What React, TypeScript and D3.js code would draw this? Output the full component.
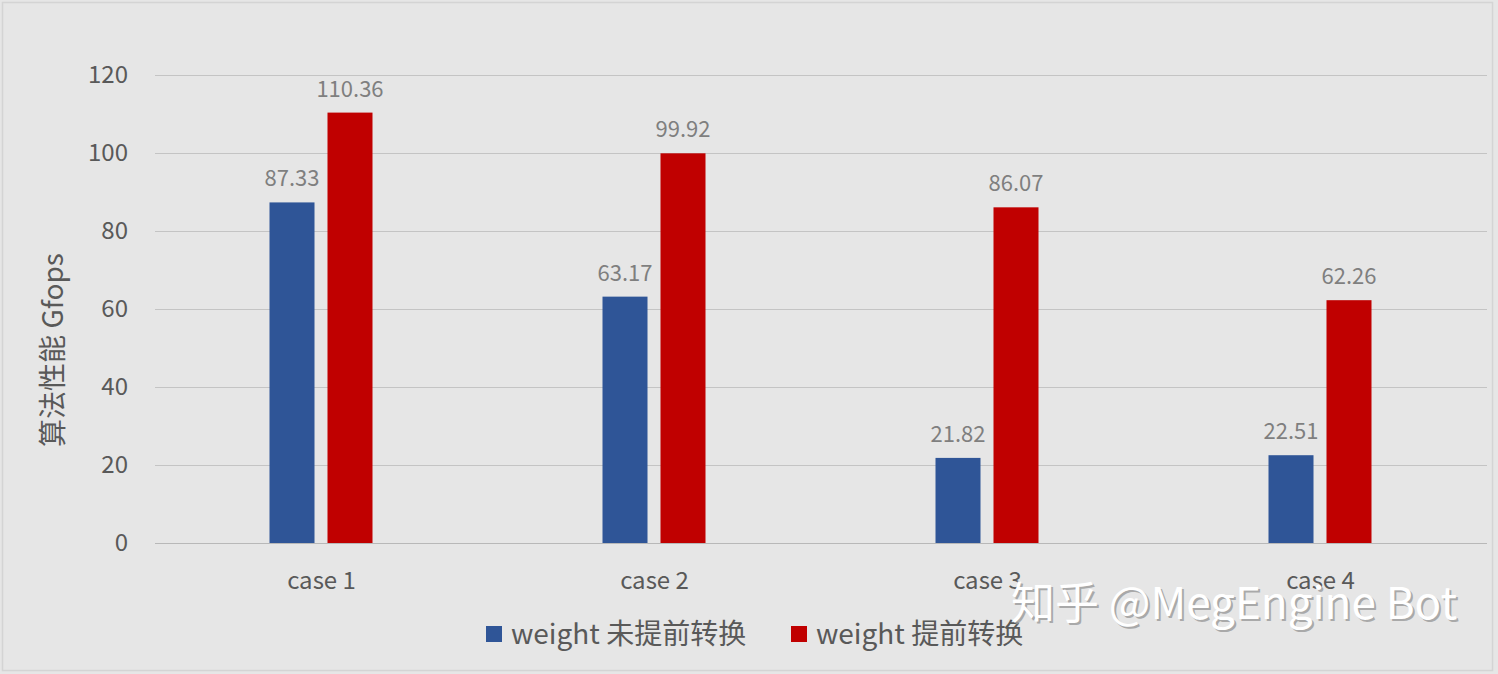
import React, { useEffect, useRef } from 'react';
import * as d3 from 'd3';

const cases = ['case 1', 'case 2', 'case 3', 'case 4'];
const seriesNames = ['weight 未提前转换', 'weight 提前转换'];
const seriesColors = ['#2f5597', '#c00000'];
const notConverted = [87.33, 63.17, 21.82, 22.51];
const converted = [110.36, 99.92, 86.07, 62.26];
const yTicks = [0, 20, 40, 60, 80, 100, 120];

const FONT = '"Noto Sans CJK SC", "Open Sans", sans-serif';

const App: React.FC = () => {
  const svgRef = useRef<SVGSVGElement>(null);

  useEffect(() => {
    document.body.style.margin = '0';
    if (!svgRef.current) return;
    const width = 1498;
    const height = 674;
    const svg = d3.select(svgRef.current);
    svg.selectAll('*').remove();

    // background + frame
    svg.append('rect')
      .attr('x', 0).attr('y', 0)
      .attr('width', width).attr('height', height)
      .attr('fill', '#e6e6e6');
    svg.append('rect')
      .attr('x', 2.5).attr('y', 2.5)
      .attr('width', 1490).attr('height', 668)
      .attr('fill', 'none')
      .attr('stroke', '#d4d4d4')
      .attr('stroke-width', 1.5);

    const left = 155;
    const right = 1487;

    const yScale = d3.scaleLinear().domain([0, 120]).range([543, 75]);
    const x0 = d3.scaleBand<string>().domain(cases).range([left, right]);
    const inner = d3.scaleBand<number>()
      .domain([0, 1])
      .range([x0.bandwidth() / 2 - 52, x0.bandwidth() / 2 + 51])
      .paddingInner(0.224);

    // gridlines
    svg.append('g')
      .selectAll('line')
      .data(yTicks)
      .join('line')
      .attr('x1', left)
      .attr('x2', right)
      .attr('y1', d => Math.round(yScale(d)) + 0.5)
      .attr('y2', d => Math.round(yScale(d)) + 0.5)
      .attr('stroke', d => (d === 0 ? '#b8b8b8' : '#c4c4c4'))
      .attr('stroke-width', 1);

    // y tick labels
    svg.append('g')
      .selectAll('text')
      .data(yTicks)
      .join('text')
      .attr('x', 128)
      .attr('y', d => yScale(d))
      .attr('dy', '0.35em')
      .attr('text-anchor', 'end')
      .attr('font-family', FONT)
      .attr('font-size', 24)
      .attr('fill', '#595959')
      .text(d => d);

    // y axis title
    svg.append('text')
      .attr('transform', `translate(53,350) rotate(-90)`)
      .attr('text-anchor', 'middle')
      .attr('dy', '0.35em')
      .attr('font-family', FONT)
      .attr('font-size', 28)
      .attr('fill', '#595959')
      .text('算法性能 Gfops');

    // bars
    const allSeries = [notConverted, converted];
    allSeries.forEach((values, si) => {
      const g = svg.append('g');
      g.selectAll('rect')
        .data(values)
        .join('rect')
        .attr('x', (d, i) => (x0(cases[i]) as number) + (inner(si) as number))
        .attr('y', d => yScale(d))
        .attr('width', inner.bandwidth())
        .attr('height', d => yScale(0) - yScale(d))
        .attr('fill', seriesColors[si]);

      g.selectAll('text')
        .data(values)
        .join('text')
        .attr('x', (d, i) => (x0(cases[i]) as number) + (inner(si) as number) + inner.bandwidth() / 2)
        .attr('y', d => yScale(d) - 16)
        .attr('text-anchor', 'middle')
        .attr('font-family', FONT)
        .attr('font-size', 22)
        .attr('fill', '#7f7f7f')
        .text(d => d.toFixed(2));
    });

    // category labels
    svg.append('g')
      .selectAll('text')
      .data(cases)
      .join('text')
      .attr('x', d => (x0(d) as number) + x0.bandwidth() / 2)
      .attr('y', 589)
      .attr('text-anchor', 'middle')
      .attr('font-family', FONT)
      .attr('font-size', 24)
      .attr('fill', '#595959')
      .text(d => d);

    // legend
    const legendX = [486, 791];
    seriesNames.forEach((name, i) => {
      const lg = svg.append('g').attr('transform', `translate(${legendX[i]},634)`);
      lg.append('rect')
        .attr('x', 0).attr('y', -8)
        .attr('width', 16).attr('height', 16)
        .attr('fill', seriesColors[i]);
      lg.append('text')
        .attr('x', 25)
        .attr('y', 0)
        .attr('dy', '0.35em')
        .attr('font-family', FONT)
        .attr('font-size', 28)
        .attr('fill', '#595959')
        .text(name);
    });

    // watermark
    const wm = svg.append('g').attr('font-family', FONT).attr('font-size', 44);
    wm.append('text')
      .attr('x', 1236).attr('y', 621)
      .attr('text-anchor', 'middle')
      .attr('fill', '#9a9a9a')
      .attr('opacity', 0.8)
      .text('知乎 @MegEngine Bot');
    wm.append('text')
      .attr('x', 1234).attr('y', 619)
      .attr('text-anchor', 'middle')
      .attr('fill', '#ffffff')
      .text('知乎 @MegEngine Bot');
  }, []);

  return <svg ref={svgRef} width={1498} height={674} style={{ display: 'block' }} />;
};

export default App;
